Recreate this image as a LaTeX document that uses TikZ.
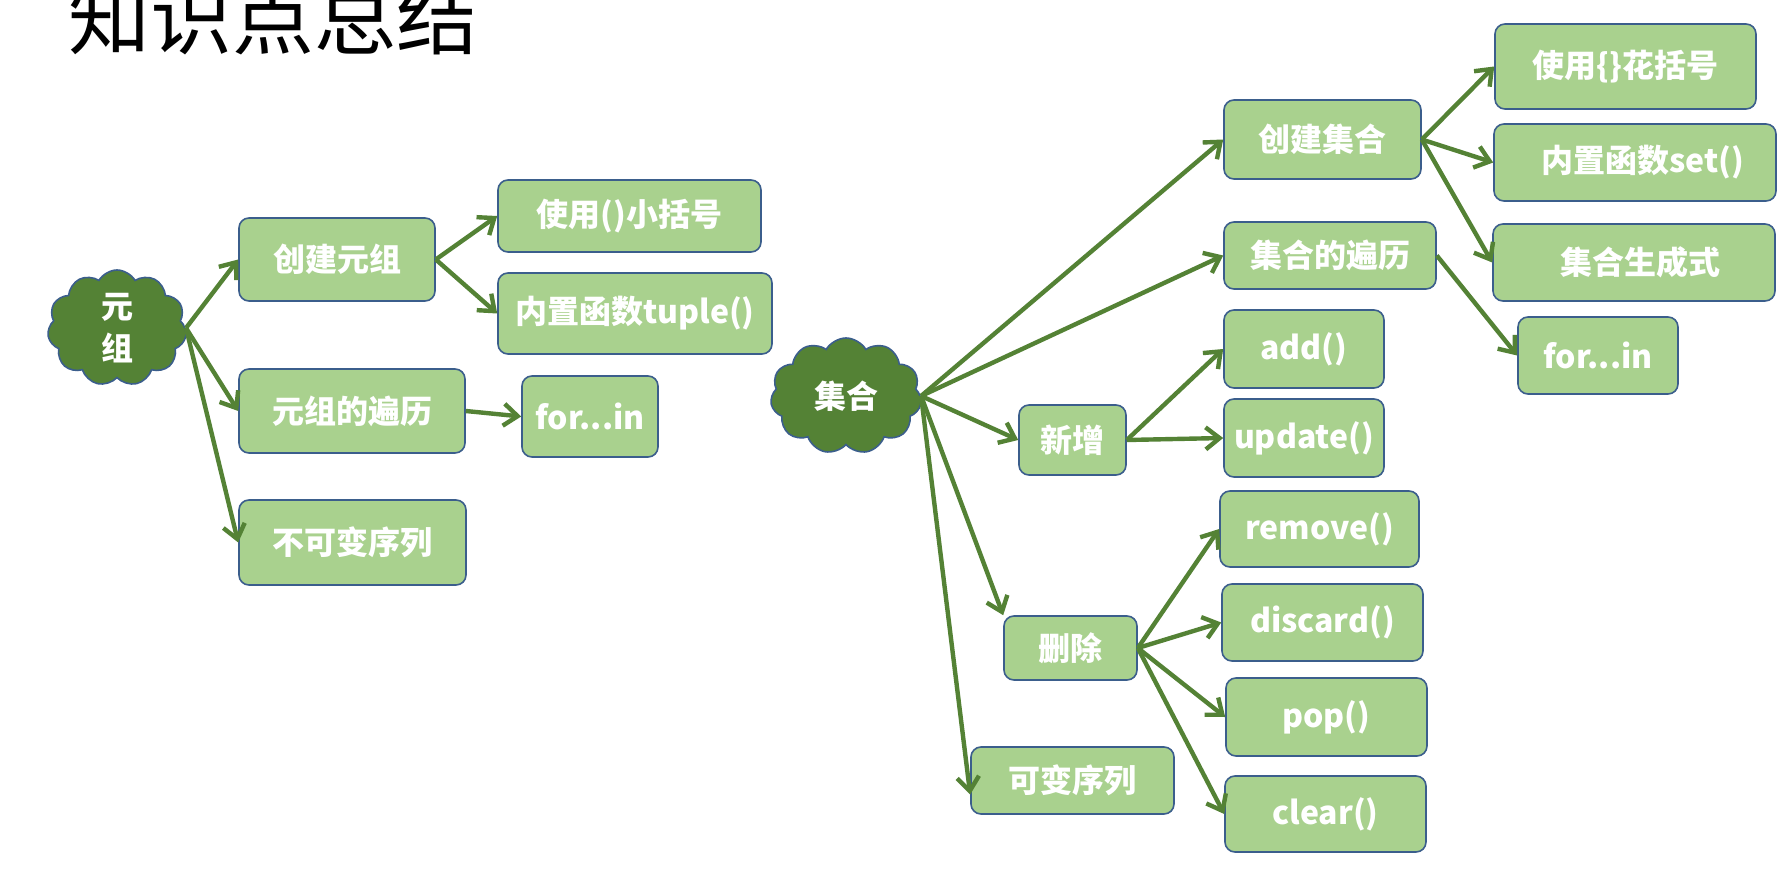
\documentclass[tikz,border=0pt]{standalone}
\usepackage{fontspec}
\setmainfont{Noto Sans CJK SC}
\usetikzlibrary{shapes.symbols,arrows.meta}
\definecolor{boxfill}{HTML}{A9D18E}
\definecolor{boxline}{HTML}{3B5E8C}
\definecolor{arrowc}{HTML}{548235}
\definecolor{cloudfill}{HTML}{548235}
\begin{document}
\begin{tikzpicture}[x=0.5pt,y=-0.5pt,
  box/.style={draw=boxline, line width=0.8pt, fill=boxfill, rounded corners=5pt,
    text=white, font=\fontsize{16}{18}\selectfont\bfseries, inner sep=0pt},
  cloudn/.style={cloud, cloud puffs=11, cloud puff arc=120, cloud ignores aspect,
    draw=boxline, line width=0.8pt, fill=cloudfill, text=white,
    font=\fontsize{16}{21}\selectfont\bfseries, inner sep=0pt, align=center},
  arr/.style={draw=arrowc, line width=2.2pt, -{Straight Barb[length=7pt,width=11pt]}}
]
\fill[white] (0,0) rectangle (1779,893);
\useasboundingbox (0,0) rectangle (1779,893);

\node[anchor=base west, inner sep=0pt, font=\fontsize{41}{41}\selectfont] (title) at (68,49) {知识点总结};

% left: tuple
\node[cloudn, minimum width=69.5pt, minimum height=58pt] (ly) at (117,328) {元\\组};
\node[box, minimum width=98pt, minimum height=41.5pt] (c1) at (337,259.5) {创建元组};
\node[box, minimum width=131.5pt, minimum height=36pt] (c11) at (629.5,216) {使用()小括号\hspace{19pt}};
\node[box, minimum width=137pt, minimum height=40.5pt] (c12) at (635,313.5) {内置函数tuple()};
\node[box, minimum width=113pt, minimum height=42pt] (c2) at (352,411) {元组的遍历};
\node[box, minimum width=68pt, minimum height=40.5pt] (c21) at (590,416.5) {for...in};
\node[box, minimum width=113.5pt, minimum height=42.5pt] (c3) at (352.5,542.5) {不可变序列};

\draw[arr] (ly.east) -- (c1.west);
\draw[arr] (ly.east) -- (c2.west);
\draw[arr] (ly.east) -- (c3.west);
\draw[arr] (c1.east) -- (c11.west);
\draw[arr] (c1.east) -- (c12.west);
\draw[arr] (c2.east) -- (c21.west);

% right: set
\node[cloudn, minimum width=75.5pt, minimum height=58pt] (ry) at (846,396) {集合};
\node[box, minimum width=98.5pt, minimum height=39.5pt] (s1) at (1322.5,139.5) {创建集合\hspace{14pt}};
\node[box, minimum width=130.5pt, minimum height=42.5pt] (s11) at (1625.5,66.5) {使用\{\}花括号};
\node[box, minimum width=141pt, minimum height=38.5pt] (s12) at (1635,162.5) {\hspace{8pt}内置函数set()};
\node[box, minimum width=141pt, minimum height=38.5pt] (s13) at (1634,262.5) {\hspace{6pt}集合生成式};
\node[box, minimum width=106pt, minimum height=33.5pt] (s2) at (1330,255.5) {集合的遍历\hspace{8pt}};
\node[box, minimum width=80pt, minimum height=38.5pt] (s21) at (1598,355.5) {for...in};
\node[box, minimum width=53.5pt, minimum height=35pt] (s3) at (1072.5,440) {新增\hspace{5pt}};
\node[box, minimum width=80pt, minimum height=39pt] (s31) at (1304,349) {add()};
\node[box, minimum width=80pt, minimum height=39pt] (s32) at (1304,438) {update()\hspace{10pt}};
\node[box, minimum width=66.5pt, minimum height=32pt] (s4) at (1070.5,648) {删除\hspace{17pt}};
\node[box, minimum width=99.5pt, minimum height=38pt] (s41) at (1319.5,529) {remove()};
\node[box, minimum width=100.5pt, minimum height=38.5pt] (s42) at (1322.5,622.5) {discard()};
\node[box, minimum width=100.5pt, minimum height=39pt] (s43) at (1326.5,717) {pop()};
\node[box, minimum width=100.5pt, minimum height=38pt] (s44) at (1325.5,814) {clear()};
\node[box, minimum width=101.5pt, minimum height=33.5pt] (s5) at (1072.5,780.5) {可变序列\hspace{18pt}};

\draw[arr] (ry.east) -- (s1.west);
\draw[arr] (ry.east) -- (s2.west);
\draw[arr] (ry.east) -- (s3.west);
\draw[arr] (ry.east) -- (s4.north west);
\draw[arr] (ry.east) -- ([yshift=-7pt]s5.west);
\draw[arr] (s1.east) -- (s11.west);
\draw[arr] (s1.east) -- (s12.west);
\draw[arr] (s1.east) -- (s13.west);
\draw[arr] (s2.east) -- (s21.west);
\draw[arr] (s3.east) -- (s31.west);
\draw[arr] (s3.east) -- (s32.west);
\draw[arr] (s4.east) -- (s41.west);
\draw[arr] (s4.east) -- (s42.west);
\draw[arr] (s4.east) -- (s43.west);
\draw[arr] (s4.east) -- (s44.west);
\end{tikzpicture}
\end{document}
